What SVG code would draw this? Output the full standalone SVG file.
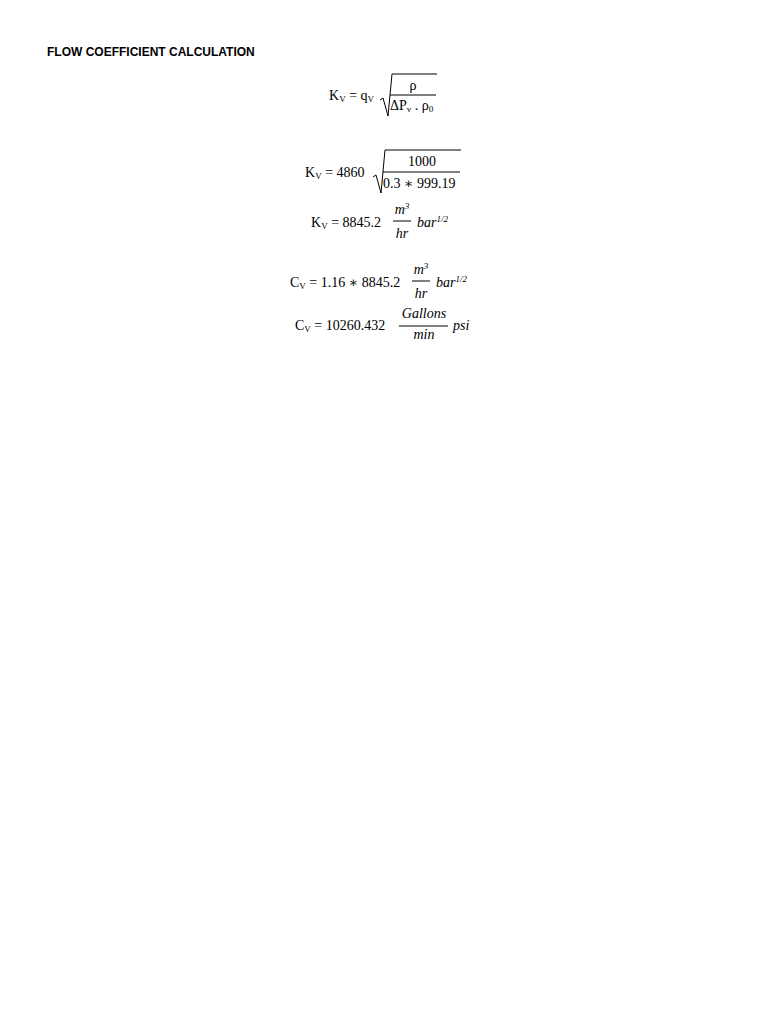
<svg xmlns="http://www.w3.org/2000/svg" width="768" height="1024" viewBox="0 0 768 1024">
<style>
text{font-family:"Liberation Serif","DejaVu Serif",serif;font-size:14px;fill:#000}
.i{font-style:italic}
.s{font-size:9px}
.t{font-family:"Liberation Sans",Arial,sans-serif;font-weight:bold;font-size:12px}
line,path{stroke:#000;stroke-width:1;fill:none}
</style>
<rect width="768" height="1024" fill="#fff"/>
<text class="t" x="47" y="56">FLOW COEFFICIENT CALCULATION</text>
<g id="eq1">
<text x="329" y="100">K<tspan class="s" dy="2">V</tspan><tspan dy="-2"> = q</tspan><tspan class="s" dy="2">V</tspan></text>
<path d="M380,100 L383,98 L388,116 L392,74 L437,74"/>
<text x="413" y="90" text-anchor="middle">ρ</text>
<line x1="390" y1="95" x2="436" y2="95"/>
<text x="390" y="110">ΔP<tspan class="s" dy="2">v</tspan><tspan dy="-2"> . ρ</tspan><tspan class="s" dy="2">0</tspan></text>
</g>
<g id="eq2">
<text x="305" y="177">K<tspan class="s" dy="2">V</tspan><tspan dy="-2"> = 4860</tspan></text>
<path d="M373,177 L376,175 L381,193 L385,150 L461,150"/>
<text x="422" y="166" text-anchor="middle">1000</text>
<line x1="383" y1="172" x2="460" y2="172"/>
<text x="383" y="188">0.3 ∗ 999.19</text>
</g>
<g id="eq3">
<text x="311" y="227">K<tspan class="s" dy="2">V</tspan><tspan dy="-2"> = 8845.2</tspan></text>
<text class="i" x="402" y="214" text-anchor="middle">m<tspan class="s" dy="-5">3</tspan></text>
<line x1="393" y1="221" x2="411" y2="221"/>
<text class="i" x="402" y="238" text-anchor="middle">hr</text>
<text class="i" x="417" y="227">bar<tspan class="s" dy="-5">1/2</tspan></text>
</g>
<g id="eq4">
<text x="290" y="287">C<tspan class="s" dy="2">V</tspan><tspan dy="-2"> = 1.16 ∗  8845.2</tspan></text>
<text class="i" x="421" y="274" text-anchor="middle">m<tspan class="s" dy="-5">3</tspan></text>
<line x1="412" y1="281" x2="430" y2="281"/>
<text class="i" x="421" y="298" text-anchor="middle">hr</text>
<text class="i" x="436" y="287">bar<tspan class="s" dy="-5">1/2</tspan></text>
</g>
<g id="eq5">
<text x="295" y="330">C<tspan class="s" dy="2">V</tspan><tspan dy="-2"> = 10260.432</tspan></text>
<text class="i" x="424" y="318" text-anchor="middle">Gallons</text>
<line x1="399" y1="326" x2="448" y2="326"/>
<text class="i" x="424" y="339" text-anchor="middle">min</text>
<text class="i" x="453" y="330">psi</text>
</g>
</svg>
